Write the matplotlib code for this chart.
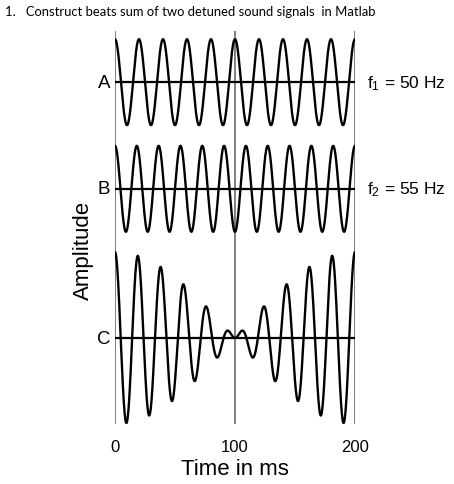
"""
Beats: sum of two detuned sound signals
"""
import numpy as np
import matplotlib.pyplot as plt

# ======================================================================================================================
# Data
FREQS_HZ = [50, 55]                 # f1, f2
ROW_LABELS = ['A', 'B', 'C']
FREQ_LABELS = ['f$_1$ = 50 Hz', 'f$_2$ = 55 Hz']
ROW_OFFSETS = [5.95, 3.47, 0.0]     # vertical position of each trace
TICKS_MS = [0, 100, 200]
DURATION_MS = 200
TITLE = '1.   Construct beats sum of two detuned sound signals  in Matlab'

plt.rcParams['font.family'] = ['Liberation Sans', 'DejaVu Sans']
plt.rcParams['mathtext.fontset'] = 'custom'
plt.rcParams['mathtext.rm'] = 'Liberation Sans'
plt.rcParams['mathtext.it'] = 'Liberation Sans'

# ======================================================================================================================
t_ms = np.linspace(0, DURATION_MS, 4001)
sigA = np.cos(2 * np.pi * FREQS_HZ[0] * t_ms / 1000)
sigB = np.cos(2 * np.pi * FREQS_HZ[1] * t_ms / 1000)
signals = [sigA, sigB, sigA + sigB]

fig = plt.figure(figsize=[4.54, 4.85], dpi=100)
H = 485
ax = fig.add_axes([115 / 454, (H - 425) / H, 240 / 454, (425 - 32) / H])
ax.set_xlim(0, DURATION_MS)
ax.set_ylim(-2.0, 7.14)

for x in TICKS_MS:
    ax.axvline(x, color='#808080', lw=1.4, zorder=1)

for sig, off, lab in zip(signals, ROW_OFFSETS, ROW_LABELS):
    ax.plot(t_ms, sig + off, color='black', lw=1.7, zorder=3)
    ax.plot([0, DURATION_MS], [off, off], color='black', lw=1.6, zorder=2)
    ax.text(-4, off, lab, ha='right', va='center', fontsize=13.5)

for off, lab in zip(ROW_OFFSETS[:2], FREQ_LABELS):
    ax.text(DURATION_MS + 10, off, lab, ha='left', va='center', fontsize=12.5)

for s in ax.spines.values():
    s.set_visible(False)
ax.set_yticks([])
ax.set_xticks(TICKS_MS)
ax.set_xticklabels([str(x) for x in TICKS_MS], fontsize=12)
ax.tick_params(axis='x', length=0, pad=11)
ax.set_xlabel('Time in ms', fontsize=16, labelpad=3)

fig.text(83 / 454, 1 - 250 / H, 'Amplitude', rotation=90, ha='center', va='center', fontsize=16)
fig.text(5 / 454, 1 - 12 / H, TITLE, ha='left', va='center', fontsize=9.4, family=['Lato', 'DejaVu Sans'])

fig.savefig('out.png', dpi=100)
